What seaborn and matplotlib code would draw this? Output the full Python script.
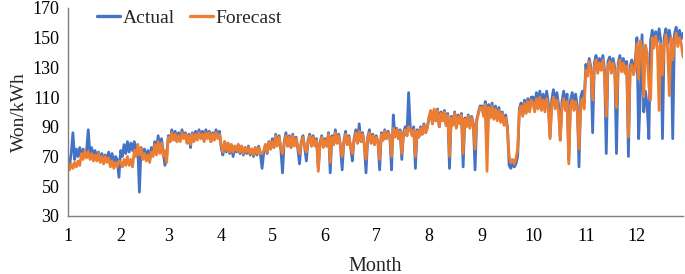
import numpy as np
import pandas as pd
import matplotlib
matplotlib.use("Agg")
import matplotlib.pyplot as plt
import seaborn as sns

# daily prices (Won/kWh), one list per month
month_labels = ["1", "2", "3", "4", "5", "6", "7", "8", "9", "10", "11", "12"]

actual_jan = [69, 64, 72, 86, 68, 75, 70, 76, 69, 75, 70, 74, 88, 71, 76, 70, 74, 68, 73, 67, 72, 66, 71, 68, 73, 66, 72, 64, 70, 68, 56]
actual_feb = [74, 70, 78, 72, 80, 73, 79, 74, 80, 75, 78, 46, 76, 70, 75, 69, 74, 68, 76, 72, 80, 74, 84, 76, 82, 73, 64, 70]
actual_mar = [84, 80, 88, 82, 87, 80, 86, 81, 88, 83, 86, 79, 85, 76, 86, 81, 87, 82, 88, 83, 87, 81, 88, 83, 87, 80, 86, 82, 88, 83, 87]
actual_apr = [76, 71, 80, 73, 79, 72, 78, 70, 77, 73, 78, 72, 77, 71, 76, 72, 77, 71, 75, 70, 76, 71, 77, 72, 62, 73, 78, 72, 80, 75]
actual_may = [82, 76, 85, 78, 84, 75, 59, 80, 86, 77, 84, 76, 85, 78, 83, 75, 65, 80, 84, 76, 67, 81, 85, 77, 84, 78, 82, 62, 79, 84, 77]
actual_jun = [82, 77, 86, 59, 84, 78, 88, 79, 85, 77, 61, 80, 87, 78, 84, 76, 67, 82, 88, 79, 92, 80, 86, 78, 59, 83, 88, 79, 85, 78]
actual_jul = [84, 80, 61, 86, 81, 88, 82, 87, 83, 61, 98, 84, 89, 82, 88, 68, 86, 90, 84, 113, 89, 85, 90, 62, 88, 83, 90, 85, 92, 86, 90]
actual_aug = [96, 100, 92, 101, 94, 102, 90, 100, 95, 101, 91, 99, 62, 97, 92, 100, 90, 98, 93, 99, 63, 96, 91, 98, 90, 97, 92, 61, 95, 100, 104]
actual_sep = [104, 98, 107, 75, 105, 97, 106, 96, 104, 95, 103, 94, 100, 92, 98, 90, 64, 62, 66, 63, 65, 70, 102, 106, 98, 108, 100, 109, 101, 110]
actual_oct = [110, 104, 113, 106, 114, 105, 112, 104, 114, 106, 83, 108, 115, 106, 113, 105, 81, 107, 114, 105, 112, 68, 108, 113, 105, 112, 104, 63, 110, 114, 106]
actual_nov = [132, 127, 136, 130, 86, 133, 138, 129, 136, 131, 138, 128, 72, 134, 137, 129, 136, 130, 72, 133, 138, 130, 136, 129, 134, 70, 131, 135, 128, 134]
actual_dec = [150, 82, 112, 152, 100, 114, 104, 82, 148, 155, 146, 154, 147, 156, 148, 82, 150, 156, 146, 155, 148, 82, 152, 157, 147, 155, 149, 153]

forecast_jan = [66, 61, 65, 62, 66, 63, 67, 64, 72, 68, 74, 69, 73, 68, 72, 67, 71, 67, 72, 66, 70, 65, 70, 66, 69, 63, 67, 62, 66, 63, 67]
forecast_feb = [66, 63, 68, 64, 70, 64, 68, 63, 74, 70, 78, 71, 76, 68, 72, 67, 71, 66, 73, 70, 78, 71, 80, 72, 79, 70, 74, 66]
forecast_mar = [83, 80, 86, 81, 85, 80, 84, 80, 86, 82, 85, 79, 84, 78, 85, 80, 85, 81, 86, 82, 85, 80, 86, 82, 86, 80, 85, 81, 86, 82, 85]
forecast_apr = [78, 73, 80, 74, 79, 73, 78, 73, 77, 74, 78, 73, 77, 72, 76, 73, 76, 72, 75, 71, 76, 72, 76, 72, 72, 74, 78, 73, 80, 75]
forecast_may = [80, 76, 84, 77, 83, 76, 72, 79, 84, 77, 83, 76, 84, 77, 82, 76, 72, 79, 83, 76, 73, 80, 84, 77, 83, 77, 81, 60, 78, 83, 76]
forecast_jun = [81, 77, 85, 66, 83, 78, 86, 79, 84, 77, 70, 79, 85, 78, 83, 76, 72, 81, 86, 79, 87, 80, 85, 78, 68, 82, 86, 79, 84, 78]
forecast_jul = [83, 80, 68, 85, 81, 87, 82, 86, 83, 70, 89, 83, 88, 82, 87, 72, 85, 88, 84, 90, 88, 84, 88, 70, 87, 83, 89, 85, 91, 86, 89]
forecast_aug = [97, 101, 92, 102, 94, 101, 90, 99, 94, 100, 91, 98, 70, 96, 91, 99, 89, 97, 92, 98, 72, 95, 90, 97, 89, 96, 91, 75, 94, 99, 103]
forecast_sep = [103, 97, 105, 60, 103, 96, 104, 95, 102, 94, 101, 93, 99, 91, 96, 88, 70, 66, 68, 65, 69, 75, 100, 104, 97, 106, 99, 107, 100, 108]
forecast_oct = [106, 100, 109, 102, 110, 101, 108, 100, 109, 102, 82, 104, 110, 102, 108, 101, 81, 103, 109, 101, 107, 65, 104, 108, 101, 107, 100, 75, 105, 109, 102]
forecast_nov = [128, 124, 134, 127, 108, 130, 135, 126, 133, 128, 135, 125, 97, 131, 134, 126, 133, 127, 103, 130, 135, 127, 133, 126, 131, 83, 128, 132, 125, 130]
forecast_dec = [146, 122, 148, 142, 110, 145, 140, 118, 108, 150, 143, 151, 144, 101, 146, 125, 145, 152, 143, 111, 150, 135, 147, 153, 144, 150, 146, 137]

days_in_month = [31, 28, 31, 30, 31, 30, 31, 31, 30, 31, 30, 31]

actual = (actual_jan + actual_feb + actual_mar + actual_apr + actual_may + actual_jun
          + actual_jul + actual_aug + actual_sep + actual_oct + actual_nov + actual_dec)
forecast = (forecast_jan + forecast_feb + forecast_mar + forecast_apr + forecast_may + forecast_jun
            + forecast_jul + forecast_aug + forecast_sep + forecast_oct + forecast_nov + forecast_dec)

n = len(actual)
datos = pd.DataFrame({
    "dia": list(range(n)) * 2,
    "precio": actual + forecast,
    "serie": ["Actual"] * n + ["Forecast"] * n,
})

sns.set_theme(style="white")
plt.rcParams["font.family"] = ["Liberation Serif", "DejaVu Serif"]

fig = plt.figure(figsize=(6.85, 2.74), dpi=100)
ax = fig.add_axes([0.099, 0.212, 0.898, 0.759])

sns.lineplot(data=datos, x="dia", y="precio", hue="serie",
             palette={"Actual": "#4472C4", "Forecast": "#ED7D31"},
             estimator=None, linewidth=2.0, ax=ax)

month_starts = np.concatenate([[0], np.cumsum(days_in_month)[:-1]])
ax.set_xticks(month_starts)
ax.set_xticklabels(month_labels)
ax.set_xlim(0, n - 1)
ax.set_ylim(30, 170)
ax.set_yticks(range(30, 171, 20))
ax.tick_params(axis="both", length=0, labelsize=13, colors="black")
ax.tick_params(axis="x", pad=9)
ax.tick_params(axis="y", pad=6)

ax.set_xlabel("Month", fontsize=14.5, labelpad=8)
ax.set_ylabel("Won/kWh", fontsize=14, labelpad=3)

sns.despine(ax=ax)
for lado in ["left", "bottom"]:
    ax.spines[lado].set_color("#7f7f7f")
    ax.spines[lado].set_linewidth(1.0)

handles, labels = ax.get_legend_handles_labels()
for h in handles:
    h.set_linewidth(2.4)
ax.legend(handles, labels, loc="center left", bbox_to_anchor=(0.035, 0.95),
          ncol=2, frameon=False, fontsize=14, handlelength=1.2,
          handletextpad=0.1, columnspacing=0.8, borderaxespad=0)

fig.savefig("out.png", dpi=100)
